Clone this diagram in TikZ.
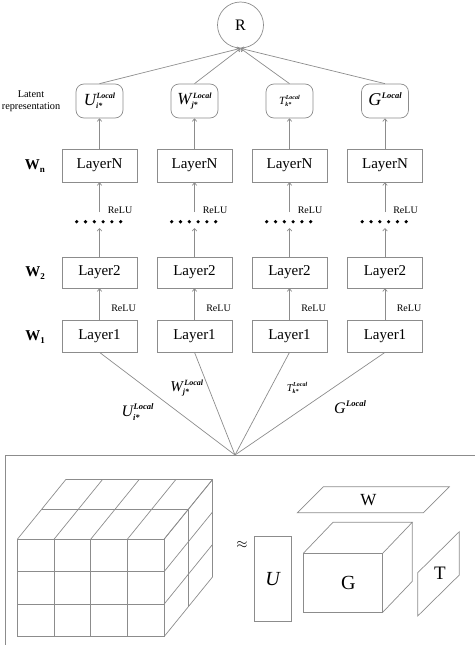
\documentclass[tikz,border=0pt]{standalone}
\usepackage{fontspec}
\setmainfont{Liberation Serif}
\usetikzlibrary{arrows.meta}
\definecolor{lncol}{RGB}{140,140,140}
\newcommand{\fs}[1]{\fontsize{#1}{#1}\selectfont}
% #1 base size, #2 base letter, #3 script size, #4 sup, #5 sub, #6 sub kern, #7 sup kern
\newcommand{\ssl}[7]{{\fs{#1}\itshape #2}\rlap{\kern#6{\fs{#3}\raisebox{-0.4em}{\bfseries\itshape #5}}}\kern#7{\fs{#3}\raisebox{0.8em}{\bfseries\itshape #4}}}
\begin{document}
\begin{tikzpicture}[x=1pt,y=-1pt,
  gline/.style={draw=lncol, line width=0.7pt},
  arr/.style={gline, -{Straight Barb[length=2.5pt,width=4.5pt]}},
  layerbox/.style={draw=lncol, line width=0.7pt, minimum width=75pt, minimum height=32pt, inner sep=0pt, font=\fs{15}},
  latbox/.style={draw=lncol, line width=0.7pt, rounded corners=8pt, minimum width=47pt, minimum height=34pt, inner sep=0pt},
  relu/.style={font=\fs{10}},
  wlab/.style={font=\fs{15}\bfseries},
  dotmark/.style={circle, fill=black, inner sep=0pt, minimum size=3.6pt},
  lbl/.style={inner sep=0pt}]
\useasboundingbox (0,0) rectangle (474,645);

% top node
\node[draw=lncol, line width=0.7pt, circle, minimum size=46pt, inner sep=0pt, font=\fs{16}] (R) at (240.5,25) {R};

% latent boxes
\node[latbox] (lat1) at (99.5,101) {\ssl{17}{U}{8}{Local}{i*}{0pt}{0.5pt}};
\node[latbox] (lat2) at (194.5,101) {\ssl{17}{W}{8}{Local}{j*}{0pt}{1.5pt}};
\node[latbox] (lat3) at (289.5,101) {\ssl{11}{T}{6}{Local}{k*}{0pt}{0.5pt}};
\node[latbox] (lat4) at (385,101) {\ssl{18}{G}{8.5}{Local}{}{0pt}{0.5pt}};

\node[font=\fontsize{10.3}{12.5}\selectfont, align=center] (latrep) at (31,101) {Latent\\representation};

\node[wlab] (wn) at (35,166) {W\raisebox{-0.25em}{\fs{9}n}};
\node[wlab] (w2) at (35,273) {W\raisebox{-0.25em}{\fs{9}2}};
\node[wlab] (w1) at (35,337) {W\raisebox{-0.25em}{\fs{9}1}};

\coordinate (conv) at (235,455);

\foreach \i/\x in {1/99.5,2/194.5,3/289.5,4/385}{
  \node[layerbox, minimum height=33pt] (LN\i) at (\x,165.5) {LayerN};
  \node[layerbox, minimum height=31pt] (L2\i) at (\x,272.5) {Layer2};
  \node[layerbox] (L1\i) at (\x,336) {Layer1};
  \foreach \k in {0,...,5}{
    \node[dotmark] (dt\i\k) at (\x-22.8+\k*8.8,221.7) {};
  }
  \coordinate (dtop\i) at (\x,212);
  \coordinate (dbot\i) at (\x,228);
  \draw[arr] (dtop\i) -- (LN\i.south);
  \draw[arr] (L2\i.north) -- (dbot\i);
  \draw[arr] (L1\i.north) -- (L2\i.south);
  \draw[arr] (LN\i.north) -- (lat\i.south);
  \draw[arr] (lat\i.north) -- (R.south);
  \draw[gline] (L1\i.south) -- (conv);
  \node[relu] (ru\i) at (\x+20.5,210) {ReLU};
  \node[relu] (rl\i) at (\x+24,308) {ReLU};
}

% edge labels
\node[lbl] (eu) at (137.5,412) {\ssl{16}{U}{8.5}{Local}{i*}{0pt}{0.5pt}};
\node[lbl] (ew) at (186.7,388) {\ssl{15}{W}{8}{Local}{j*}{0pt}{1.5pt}};
\node[lbl] (et) at (297,388) {\ssl{10.5}{T}{6}{Local}{k*}{0pt}{0.5pt}};
\node[lbl] (eg) at (350,409) {\ssl{16}{G}{8.5}{Local}{}{0pt}{0.5pt}};

% bottom frame
\draw[gline] (485,455) -- (5,455) -- (5,660);

% big cube
\draw[gline] (17.3,539.3) rectangle (164,636.7);
\foreach \c in {1,2,3}{
  \draw[gline] (17.3+\c*36.675,539.3) -- (17.3+\c*36.675,636.7);
}
\foreach \r in {1,2}{
  \draw[gline] (17.3,539.3+\r*32.47) -- (164,539.3+\r*32.47);
}
\foreach \c in {0,...,4}{
  \draw[gline] (17.3+\c*36.675,539.3) -- ++(48.7,-60);
}
\draw[gline] (66,479.3) -- (212.7,479.3);
\draw[gline] (41.65,509.3) -- (188.35,509.3);
\foreach \r in {0,...,3}{
  \draw[gline] (164,539.3+\r*32.47) -- ++(48.7,-60);
}
\draw[gline] (212.7,479.3) -- (212.7,576.7);
\draw[gline] (188.35,509.3) -- (188.35,606.7);

% approx
\node[font=\fs{15}] (approx) at (242,545) {$\approx$};

% U matrix
\node[draw=lncol, line width=0.7pt, minimum width=36.7pt, minimum height=85.7pt, inner sep=0pt, font=\fs{20}\itshape] (U) at (272.65,578.85) {U};

% G core
\draw[gline] (303.3,553.3) rectangle (382.7,612.3);
\draw[gline] (303.3,553.3) -- (333,522.3) -- (412.3,522.3) -- (382.7,553.3);
\draw[gline] (412.3,522.3) -- (412.3,581.3) -- (382.7,612.3);
\node[font=\fs{20}] (G) at (348.3,583.3) {G};

% W plane
\draw[gline] (297.3,512.7) -- (423.3,512.7) -- (449.3,486.7) -- (323.3,486.7) -- cycle;
\node[font=\fs{17}] (W) at (368.3,500) {W};

% T plane
\draw[gline] (417.7,616) -- (417.7,572.7) -- (459.3,531.7) -- (459.3,575) -- cycle;
\node[font=\fs{19}] (T) at (440,573.3) {T};
\end{tikzpicture}
\end{document}
